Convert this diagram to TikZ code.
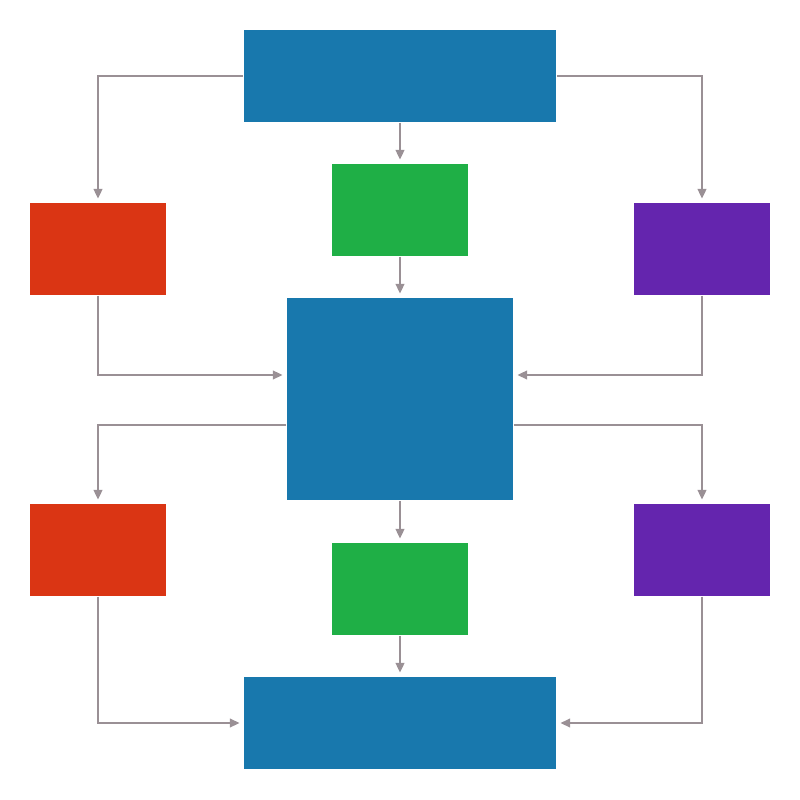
\documentclass[tikz,border=0pt]{standalone}
\usetikzlibrary{arrows.meta}
\definecolor{boxblue}{HTML}{1878AD}
\definecolor{boxred}{HTML}{DA3514}
\definecolor{boxgreen}{HTML}{1FAF46}
\definecolor{boxpurple}{HTML}{6425AE}
\definecolor{linkgrey}{HTML}{9A9095}
\begin{document}
\begin{tikzpicture}[x=0.01cm,y=-0.01cm,
    blk/.style={inner sep=0pt,minimum width=1.36cm,minimum height=0.92cm},
    wide/.style={blk,fill=boxblue,minimum width=3.12cm},
    link/.style={draw=linkgrey,line width=0.75pt,-{Triangle[length=2.8pt,width=2.4pt]},shorten >=1pt}]
        \useasboundingbox (0,0) rectangle (800,800);
        %% boxes
        \node[wide] (top) at (400,76) {};
        \node[blk,fill=boxred] (redA) at (98,249) {};
        \node[blk,fill=boxgreen] (greenA) at (400,210) {};
        \node[blk,fill=boxpurple] (purpleA) at (702,249) {};
        \node[blk,fill=boxblue,minimum width=2.26cm,minimum height=2.02cm] (mid) at (400,399) {};
        \node[blk,fill=boxred] (redB) at (98,550) {};
        \node[blk,fill=boxgreen] (greenB) at (400,589) {};
        \node[blk,fill=boxpurple] (purpleB) at (702,550) {};
        \node[wide] (bot) at (400,723) {};
        %% links
        \draw[link] (top.west) -| (redA.north);
        \draw[link] (top.east) -| (purpleA.north);
        \draw[link] (top.south) -- (greenA.north);
        \draw[link] (greenA.south) -- (mid.north);
        \draw[link] (redA.south) |- ([yshift=0.24cm]mid.west);
        \draw[link] (purpleA.south) |- ([yshift=0.24cm]mid.east);
        \draw[link] ([yshift=-0.26cm]mid.west) -| (redB.north);
        \draw[link] ([yshift=-0.26cm]mid.east) -| (purpleB.north);
        \draw[link] (mid.south) -- (greenB.north);
        \draw[link] (greenB.south) -- (bot.north);
        \draw[link] (redB.south) |- (bot.west);
        \draw[link] (purpleB.south) |- (bot.east);
\end{tikzpicture}
\end{document}
